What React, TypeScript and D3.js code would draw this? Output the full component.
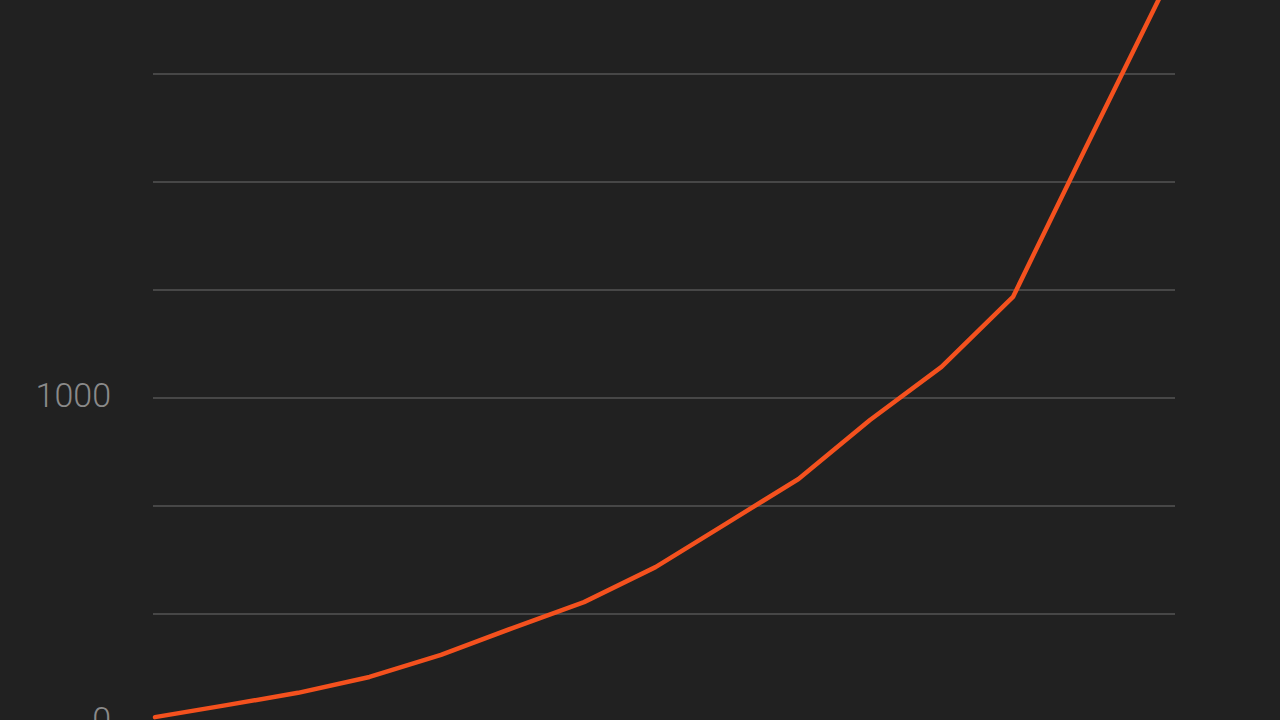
import * as React from "react";
import * as d3 from "d3";

// readings, one per step; the last one runs off the top
const steps: number[] = [0, 1, 2, 3, 4, 5, 6, 7, 8, 9, 10, 11, 12, 13, 14, 15];
const values: number[] = [15, 52, 90, 139, 207, 290, 370, 478, 614, 750, 932, 1096, 1312, 1765, 2213, 2660];
const gridValues: number[] = [0, 1000 / 3, 2000 / 3, 1000, 4000 / 3, 5000 / 3, 2000];
const tickLabels: number[] = [0, 1000];

const width = 1280;
const height = 720;

const xScale = d3.scaleLinear().domain([0, 14]).range([155, 1156]);
const yScale = d3.scaleLinear().domain([0, 2000]).range([722, 74]);

const line = d3
  .line<number>()
  .x((d, i) => xScale(steps[i]))
  .y(d => yScale(d));

export default function App() {
  return (
    <div style={{ position: "fixed", left: 0, top: 0, width, height, background: "#212121" }}>
      <svg width={width} height={height} style={{ display: "block" }}>
        <rect width={width} height={height} fill="#212121" />
        {gridValues.map((v, i) => (
          <line
            key={i}
            x1={153}
            x2={1175}
            y1={yScale(v)}
            y2={yScale(v)}
            stroke="#474747"
            strokeWidth={2}
          />
        ))}
        {tickLabels.map(v => (
          <text
            key={v}
            x={111}
            y={yScale(v) - 3}
            dy="0.35em"
            textAnchor="end"
            fill="#8a8a8a"
            fontFamily="Roboto, 'Noto Sans', sans-serif"
            fontWeight={300}
            fontSize={34}
          >
            {v}
          </text>
        ))}
        <path
          d={line(values) || ""}
          fill="none"
          stroke="#f4511e"
          strokeWidth={4.5}
          strokeLinejoin="round"
          strokeLinecap="round"
        />
      </svg>
    </div>
  );
}
